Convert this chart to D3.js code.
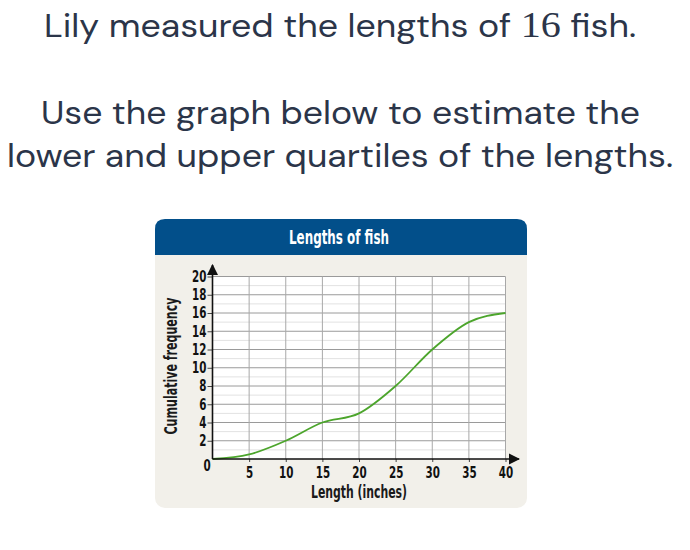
<!DOCTYPE html>
<html>
<head>
<meta charset="utf-8">
<script src="https://cdn.jsdelivr.net/npm/d3@7"></script>
<style>
  html, body { margin: 0; padding: 0; background: #ffffff; }
  svg { display: block; }
  .serif { font-family: "Liberation Serif", "DejaVu Serif", serif; }
</style>
</head>
<body>
<svg id="chart" width="690" height="550"></svg>
<script>
// ---- data ----
const lengths = [0, 5, 10, 15, 20, 25, 30, 35, 40];
const cumFreq = [0, 0.5, 2, 4, 5, 8, 12, 15, 16];
const xTicks = [5, 10, 15, 20, 25, 30, 35, 40];
const yTicks = [2, 4, 6, 8, 10, 12, 14, 16, 18, 20];
const chartTitle = "Lengths of fish";
const xLabel = "Length (inches)";
const yLabel = "Cumulative frequency";

const svg = d3.select("#chart");
const textColor = "#2b3549";
const sansFont = "'DM Sans', Inter, Lato, 'Noto Sans', sans-serif";
const condFont = "'Liberation Sans Narrow', 'DejaVu Sans Condensed', 'Roboto Condensed', sans-serif";

// ---- question text ----
const q = svg.append("g").attr("fill", textColor).attr("font-family", sansFont)
  .attr("font-size", 32).attr("text-anchor", "middle");

const l1 = q.append("text").attr("x", 340).attr("y", 37)
  .attr("textLength", 592).attr("lengthAdjust", "spacingAndGlyphs");
l1.append("tspan").text("Lily measured the lengths of ");
l1.append("tspan").attr("class", "serif").attr("font-size", 36).text("16");
l1.append("tspan").text(" fish.");

q.append("text").attr("x", 340.5).attr("y", 124)
  .attr("textLength", 599).attr("lengthAdjust", "spacingAndGlyphs")
  .text("Use the graph below to estimate the");
q.append("text").attr("x", 340).attr("y", 167)
  .attr("textLength", 666).attr("lengthAdjust", "spacingAndGlyphs")
  .text("lower and upper quartiles of the lengths.");

// ---- panel ----
const panel = { x: 155, y: 219, w: 372, h: 289, r: 10, headerH: 36 };
svg.append("rect").attr("x", panel.x).attr("y", panel.y)
  .attr("width", panel.w).attr("height", panel.h).attr("rx", panel.r)
  .attr("fill", "#f2f0ea");
svg.append("path")
  .attr("d", `M${panel.x},${panel.y + panel.headerH}
              V${panel.y + panel.r}
              Q${panel.x},${panel.y} ${panel.x + panel.r},${panel.y}
              H${panel.x + panel.w - panel.r}
              Q${panel.x + panel.w},${panel.y} ${panel.x + panel.w},${panel.y + panel.r}
              V${panel.y + panel.headerH} Z`)
  .attr("fill", "#024f8a");
svg.append("text").attr("x", 339).attr("y", 244)
  .attr("text-anchor", "middle").attr("fill", "#ffffff")
  .attr("font-family", condFont).attr("font-weight", "bold").attr("font-size", 20)
  .attr("textLength", 100).attr("lengthAdjust", "spacingAndGlyphs")
  .text(chartTitle);

// ---- scales ----
const x = d3.scaleLinear().domain([0, 40]).range([212.5, 505.5]);
const y = d3.scaleLinear().domain([0, 20]).range([459, 276.5]);

svg.append("rect").attr("x", x(0)).attr("y", y(20))
  .attr("width", x(40) - x(0)).attr("height", y(0) - y(20)).attr("fill", "#ffffff");

const minorY = d3.range(1, 20, 2);
svg.append("g").selectAll("line").data(minorY).join("line")
  .attr("x1", x(0)).attr("x2", x(40))
  .attr("y1", d => y(d)).attr("y2", d => y(d))
  .attr("stroke", "#e2e2e2").attr("stroke-width", 1);

svg.append("g").selectAll("line").data(yTicks).join("line")
  .attr("x1", x(0)).attr("x2", x(40))
  .attr("y1", d => y(d)).attr("y2", d => y(d))
  .attr("stroke", "#9a9a9a").attr("stroke-width", 1);

svg.append("g").selectAll("line").data(xTicks).join("line")
  .attr("x1", d => x(d)).attr("x2", d => x(d))
  .attr("y1", y(0)).attr("y2", y(20))
  .attr("stroke", "#a8a8a8").attr("stroke-width", 1);

// ---- curve ----
const line = d3.line().x((d, i) => x(lengths[i])).y(d => y(d)).curve(d3.curveMonotoneX);
svg.append("path").datum(cumFreq).attr("d", line)
  .attr("fill", "none").attr("stroke", "#4ca52c").attr("stroke-width", 1.8);

// ---- axes ----
const axisColor = "#111111";
const yAxis = svg.append("g").attr("transform", `translate(${x(0)},0)`)
  .call(d3.axisLeft(y).tickValues(yTicks).tickSize(5).tickPadding(1));
const xAxis = svg.append("g").attr("transform", `translate(0,${y(0)})`)
  .call(d3.axisBottom(x).tickValues(xTicks).tickSize(3).tickPadding(5));
[xAxis, yAxis].forEach(g => {
  g.attr("font-size", 15.5).attr("font-family", condFont);
  g.select(".domain").remove();
  g.selectAll(".tick line").attr("stroke", "#444");
  g.selectAll(".tick text").attr("fill", axisColor)
    .attr("font-weight", "bold")
    .attr("textLength", function() { return this.textContent.length * 7.2; })
    .attr("lengthAdjust", "spacingAndGlyphs");
});

svg.append("defs").append("marker").attr("id", "arrow")
  .attr("viewBox", "0 0 10 10").attr("refX", 9).attr("refY", 5)
  .attr("markerWidth", 7).attr("markerHeight", 7).attr("orient", "auto-start-reverse")
  .append("path").attr("d", "M0,0 L10,5 L0,10 Z").attr("fill", axisColor);

svg.append("line").attr("x1", x(0)).attr("x2", x(0))
  .attr("y1", y(0)).attr("y2", 265)
  .attr("stroke", axisColor).attr("stroke-width", 1.6).attr("marker-end", "url(#arrow)");
svg.append("line").attr("x1", x(0)).attr("x2", 519)
  .attr("y1", y(0)).attr("y2", y(0))
  .attr("stroke", axisColor).attr("stroke-width", 1.6).attr("marker-end", "url(#arrow)");

svg.append("text").attr("x", 207).attr("y", 471).attr("text-anchor", "middle")
  .attr("fill", axisColor).attr("font-family", condFont).attr("font-weight", "bold")
  .attr("font-size", 15.5).attr("textLength", 7.2).attr("lengthAdjust", "spacingAndGlyphs")
  .text("0");

svg.append("text").attr("x", 359).attr("y", 498)
  .attr("text-anchor", "middle").attr("fill", "#1a1a1a")
  .attr("font-family", condFont).attr("font-weight", "bold").attr("font-size", 18)
  .attr("textLength", 96).attr("lengthAdjust", "spacingAndGlyphs")
  .text(xLabel);
svg.append("text").attr("transform", "translate(177,366) rotate(-90)")
  .attr("text-anchor", "middle").attr("fill", "#1a1a1a")
  .attr("font-family", condFont).attr("font-weight", "bold").attr("font-size", 18)
  .attr("textLength", 137).attr("lengthAdjust", "spacingAndGlyphs")
  .text(yLabel);
</script>
</body>
</html>
